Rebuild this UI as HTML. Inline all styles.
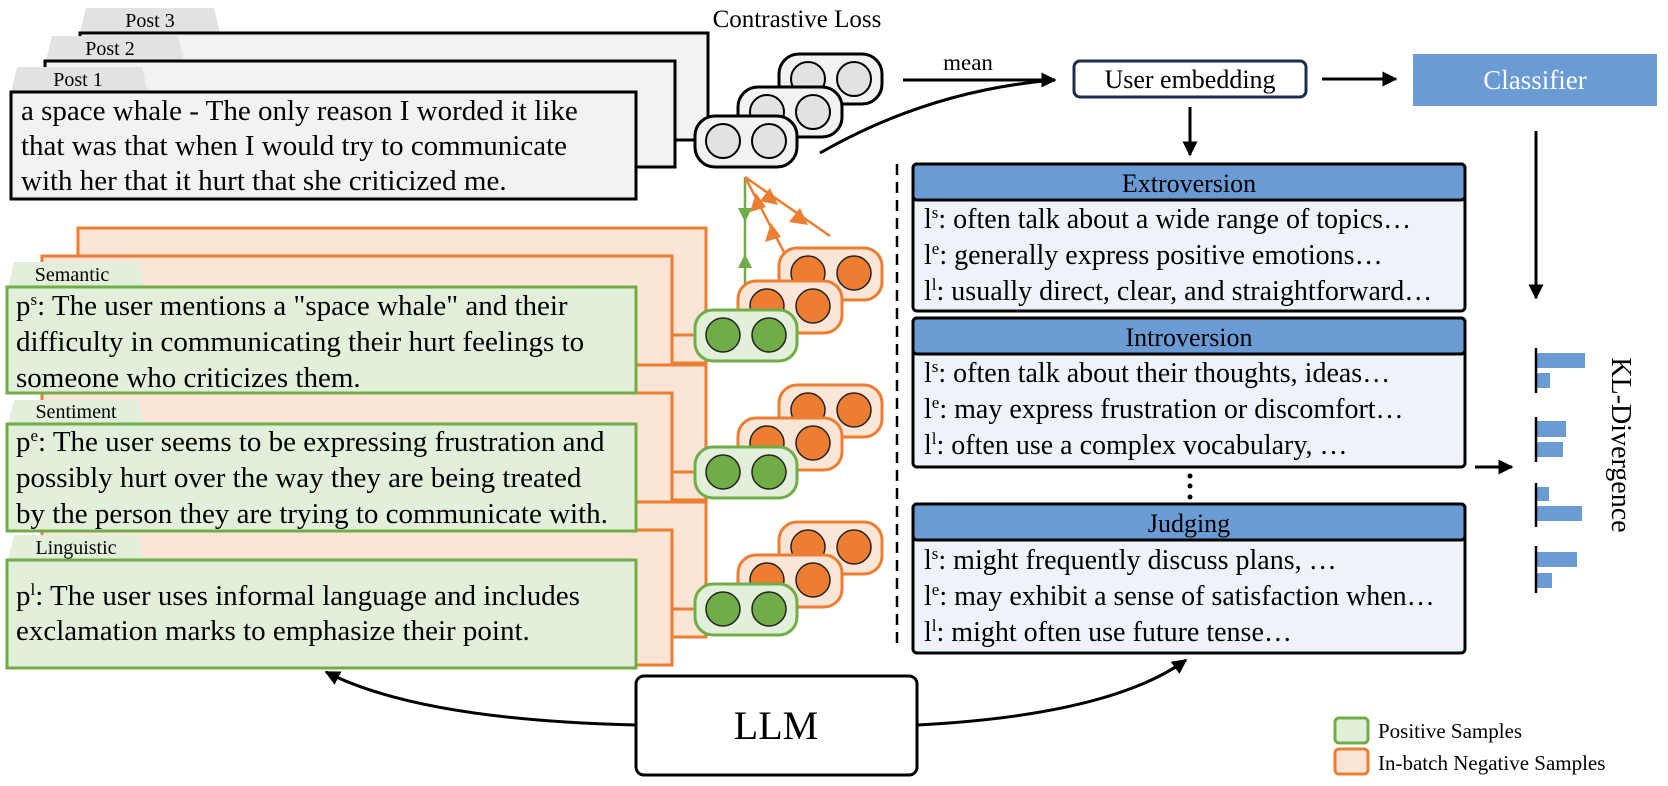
<!DOCTYPE html>
<html><head><meta charset="utf-8"><style>
html,body{margin:0;padding:0;background:#fff;}
#wrap{position:relative;width:1668px;height:786px;overflow:hidden;}
svg{display:block;position:absolute;left:0;top:0;}
svg text{font-family:"Liberation Serif",serif;}
.t{position:absolute;white-space:nowrap;font-family:"Times New Roman","Liberation Serif",Times,serif;line-height:1;color:#000;}
.l{font-size:29px;}
.r{font-size:28px;}
.t sup{font-size:17px;vertical-align:0;position:relative;top:-10px;line-height:0;}
</style></head><body><div id="wrap">
<svg width="1668" height="786" viewBox="0 0 1668 786" xmlns="http://www.w3.org/2000/svg" font-family="Liberation Serif, serif">
<defs>
<marker id="ab" viewBox="0 0 10 10" refX="9" refY="5" markerWidth="5" markerHeight="5" orient="auto"><path d="M0,0 L10,5 L0,10 z" fill="#000"/></marker>
</defs>

<polygon points="80,32 86,8 214,8 220,32" fill="#e2e2e2"/>
<text x="150" y="27" font-size="20" text-anchor="middle">Post 3</text>
<rect x="80" y="33" width="628" height="107" fill="#f2f2f2" stroke="#000" stroke-width="3"/>
<polygon points="46,61 52,36 178,36 184,61" fill="#e2e2e2"/>
<text x="110" y="55" font-size="20" text-anchor="middle">Post 2</text>
<rect x="45" y="61" width="630" height="106" fill="#f2f2f2" stroke="#000" stroke-width="3"/>
<polygon points="11,92 17,67 142,67 148,92" fill="#e2e2e2"/>
<text x="78" y="86" font-size="20" text-anchor="middle">Post 1</text>
<rect x="11" y="92" width="625" height="107" fill="#f2f2f2" stroke="#000" stroke-width="3"/>

<text x="797" y="27" font-size="25" text-anchor="middle">Contrastive Loss</text>

<g stroke="#000" stroke-width="3">
<rect x="779" y="54" width="103" height="50" rx="20" fill="#f2f2f2"/>
<circle cx="808" cy="79" r="17" fill="#e2e2e2" stroke-width="2"/><circle cx="854" cy="79" r="17" fill="#e2e2e2" stroke-width="2"/>
<rect x="738" y="87" width="104" height="50" rx="20" fill="#f2f2f2"/>
<circle cx="767" cy="112" r="17" fill="#e2e2e2" stroke-width="2"/><circle cx="813" cy="112" r="17" fill="#e2e2e2" stroke-width="2"/>
<rect x="695" y="116" width="102" height="51" rx="20" fill="#f2f2f2"/>
<circle cx="723" cy="141" r="17" fill="#e2e2e2" stroke-width="2"/><circle cx="769" cy="141" r="17" fill="#e2e2e2" stroke-width="2"/>
</g>

<line x1="903" y1="80" x2="1055" y2="80" stroke="#000" stroke-width="3" marker-end="url(#ab)"/>
<path d="M820,153 Q930,90 1055,80" fill="none" stroke="#000" stroke-width="3"/>
<text x="968" y="70" font-size="23" text-anchor="middle">mean</text>
<rect x="1074" y="61" width="232" height="36" rx="6" fill="#fff" stroke="#1f2d4d" stroke-width="3"/>
<text x="1190" y="88" font-size="26" text-anchor="middle">User embedding</text>
<line x1="1322" y1="79" x2="1396" y2="79" stroke="#000" stroke-width="3" marker-end="url(#ab)"/>
<rect x="1413" y="54" width="244" height="52" fill="#6a9bd4"/>
<text x="1535" y="89" font-size="27" fill="#fff" text-anchor="middle">Classifier</text>
<line x1="1190" y1="107" x2="1190" y2="155" stroke="#000" stroke-width="3" marker-end="url(#ab)"/>
<line x1="1536" y1="131" x2="1536" y2="298" stroke="#000" stroke-width="3" marker-end="url(#ab)"/>

<line x1="745" y1="177" x2="745" y2="297" stroke="#70ad47" stroke-width="2.5"/>
<polygon points="738,208 752,208 745,222" fill="#70ad47"/>
<polygon points="738,268 752,268 745,254" fill="#70ad47"/>
<line x1="745" y1="177" x2="830" y2="236" stroke="#ed7d31" stroke-width="2.5"/>
<line x1="745" y1="177" x2="787" y2="258" stroke="#ed7d31" stroke-width="2.5"/>
<polygon points="770,188 760,201 778,205" fill="#ed7d31"/>
<polygon points="800,208 789,222 808,225" fill="#ed7d31"/>
<polygon points="756,193 750,212 766,207" fill="#ed7d31"/>
<polygon points="771,223 765,242 781,237" fill="#ed7d31"/>

<g id="grp">
<rect x="78" y="228" width="628" height="135" fill="#fbe5d6" stroke="#ed7d31" stroke-width="3"/>
<rect x="42" y="256" width="630" height="135" fill="#fbe5d6" stroke="#ed7d31" stroke-width="3"/>
<line x1="672" y1="335" x2="697" y2="335" stroke="#ed7d31" stroke-width="3"/>
<rect x="779" y="248" width="103" height="52" rx="18" fill="#fbe5d6" stroke="#ed7d31" stroke-width="3"/>
<circle cx="808" cy="273" r="17" fill="#ed7d31" stroke="#222" stroke-width="1.5"/><circle cx="854" cy="273" r="17" fill="#ed7d31" stroke="#222" stroke-width="1.5"/>
<rect x="738" y="281" width="104" height="52" rx="18" fill="#fbe5d6" stroke="#ed7d31" stroke-width="3"/>
<circle cx="767" cy="306" r="17" fill="#ed7d31" stroke="#222" stroke-width="1.5"/><circle cx="813" cy="306" r="17" fill="#ed7d31" stroke="#222" stroke-width="1.5"/>
<rect x="695" y="310" width="102" height="51" rx="18" fill="#e2efda" stroke="#70ad47" stroke-width="3"/>
<circle cx="723" cy="335" r="17" fill="#70ad47" stroke="#222" stroke-width="1.5"/><circle cx="769" cy="335" r="17" fill="#70ad47" stroke="#222" stroke-width="1.5"/>
</g>
<use href="#grp" transform="translate(0,137)"/>
<use href="#grp" transform="translate(0,274)"/>

<polygon points="8,287 14,262 138,262 144,287" fill="#e2efda"/>
<text x="72" y="281" font-size="20" text-anchor="middle">Semantic</text>
<rect x="7" y="287" width="629" height="106" fill="#e2efda" stroke="#70ad47" stroke-width="3"/>
<polygon points="8,424 14,400 138,400 144,424" fill="#e2efda"/>
<text x="76" y="418" font-size="20" text-anchor="middle">Sentiment</text>
<rect x="7" y="424" width="629" height="107" fill="#e2efda" stroke="#70ad47" stroke-width="3"/>
<polygon points="8,560 14,535 138,535 144,560" fill="#e2efda"/>
<text x="76" y="554" font-size="20" text-anchor="middle">Linguistic</text>
<rect x="7" y="560" width="629" height="108" fill="#e2efda" stroke="#70ad47" stroke-width="3"/>

<line x1="897" y1="164" x2="897" y2="650" stroke="#000" stroke-width="2.5" stroke-dasharray="11,7"/>

<g stroke="#000" stroke-width="3">
<rect x="913" y="164" width="552" height="147" rx="4" fill="#eef3fa"/>
<rect x="913" y="164" width="552" height="36" rx="4" fill="#6a9bd4"/>
<rect x="913" y="318" width="552" height="149" rx="4" fill="#eef3fa"/>
<rect x="913" y="318" width="552" height="36" rx="4" fill="#6a9bd4"/>
<rect x="913" y="504" width="552" height="149" rx="4" fill="#eef3fa"/>
<rect x="913" y="504" width="552" height="36" rx="4" fill="#6a9bd4"/>
</g>
<g font-size="26" text-anchor="middle">
<text x="1189" y="192">Extroversion</text>
<text x="1189" y="346">Introversion</text>
<text x="1189" y="532">Judging</text>
</g>
<circle cx="1190" cy="476" r="2.5"/><circle cx="1190" cy="486" r="2.5"/><circle cx="1190" cy="497" r="2.5"/>

<line x1="1475" y1="467" x2="1512" y2="467" stroke="#000" stroke-width="3" marker-end="url(#ab)"/>
<g fill="#6a9bd4">
<rect x="1537" y="353" width="48" height="15"/><rect x="1537" y="373" width="13" height="15"/>
<rect x="1537" y="421" width="29" height="16"/><rect x="1537" y="442" width="26" height="15"/>
<rect x="1537" y="487" width="12" height="14"/><rect x="1537" y="506" width="45" height="15"/>
<rect x="1537" y="552" width="40" height="15"/><rect x="1537" y="573" width="15" height="15"/>
</g>
<g stroke="#000" stroke-width="2.5">
<line x1="1536" y1="348" x2="1536" y2="393"/><line x1="1536" y1="417" x2="1536" y2="462"/>
<line x1="1536" y1="483" x2="1536" y2="527"/><line x1="1536" y1="546" x2="1536" y2="593"/>
</g>
<text x="0" y="0" font-size="28" text-anchor="middle" transform="translate(1612,445) rotate(90)">KL-Divergence</text>

<rect x="636" y="676" width="281" height="99" rx="8" fill="#fff" stroke="#000" stroke-width="3"/>
<text x="776" y="739" font-size="40" text-anchor="middle">LLM</text>
<path d="M917,725 Q1110,715 1186,660" fill="none" stroke="#000" stroke-width="3" marker-end="url(#ab)"/>
<path d="M636,725 Q420,720 326,672" fill="none" stroke="#000" stroke-width="3" marker-end="url(#ab)"/>

<rect x="1335" y="718" width="33" height="25" rx="4" fill="#e2efda" stroke="#70ad47" stroke-width="3"/>
<text x="1378" y="738" font-size="21">Positive Samples</text>
<rect x="1335" y="749" width="33" height="25" rx="4" fill="#fbe5d6" stroke="#ed7d31" stroke-width="3"/>
<text x="1378" y="770" font-size="21">In-batch Negative Samples</text>
</svg>

<div class="t l" style="left:21px;top:97px">a space whale - The only reason I worded it like</div>
<div class="t l" style="left:21px;top:132px">that was that when I would try to communicate</div>
<div class="t l" style="left:21px;top:167px">with her that it hurt that she criticized me.</div>

<div class="t l" style="left:16px;top:292px">p<sup>s</sup>: The user mentions a "space whale" and their</div>
<div class="t l" style="left:16px;top:328px">difficulty in communicating their hurt feelings to</div>
<div class="t l" style="left:16px;top:364px">someone who criticizes them.</div>
<div class="t l" style="left:16px;top:428px">p<sup>e</sup>: The user seems to be expressing frustration and</div>
<div class="t l" style="left:16px;top:464px">possibly hurt over the way they are being treated</div>
<div class="t l" style="left:16px;top:500px">by the person they are trying to communicate with.</div>
<div class="t l" style="left:16px;top:582px">p<sup>l</sup>: The user uses informal language and includes</div>
<div class="t l" style="left:16px;top:617px">exclamation marks to emphasize their point.</div>

<div class="t r" style="left:924px;top:206px">l<sup>s</sup>: often talk about a wide range of topics…</div>
<div class="t r" style="left:924px;top:242px">l<sup>e</sup>: generally express positive emotions…</div>
<div class="t r" style="left:924px;top:278px">l<sup>l</sup>: usually direct, clear, and straightforward…</div>
<div class="t r" style="left:924px;top:360px">l<sup>s</sup>: often talk about their thoughts, ideas…</div>
<div class="t r" style="left:924px;top:396px">l<sup>e</sup>: may express frustration or discomfort…</div>
<div class="t r" style="left:924px;top:432px">l<sup>l</sup>: often use a complex vocabulary, …</div>
<div class="t r" style="left:924px;top:547px">l<sup>s</sup>: might frequently discuss plans, …</div>
<div class="t r" style="left:924px;top:583px">l<sup>e</sup>: may exhibit a sense of satisfaction when…</div>
<div class="t r" style="left:924px;top:619px">l<sup>l</sup>: might often use future tense…</div>
</div></body></html>
